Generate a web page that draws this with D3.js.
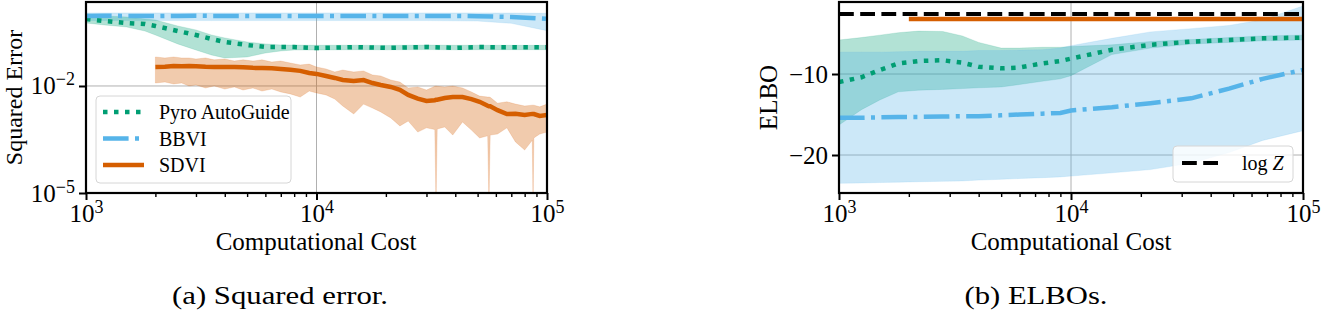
<!DOCTYPE html>
<html>
<head>
<meta charset="utf-8">
<script src="https://cdn.jsdelivr.net/npm/d3@7"></script>
<style>
body { margin: 0; background: #fff; }
text { font-family: "Liberation Serif", "DejaVu Serif", serif; fill: #000; }
</style>
</head>
<body>
<div id="container"></div>
<script>
// ---- data: (a) squared error ----
let costA = [1000, 1200, 1500, 1800, 2000, 2500, 3000, 3500, 4000, 5000, 6000, 7000, 8000, 10000, 15000, 20000, 30000, 40000, 50000, 70000, 100000];
let pyroErr   = [0.755, 0.664, 0.583, 0.547, 0.481, 0.348, 0.269, 0.208, 0.171, 0.141, 0.124, 0.124, 0.123, 0.116, 0.123, 0.117, 0.124, 0.117, 0.123, 0.122, 0.122];
let pyroErrHi = [1.05, 0.92, 0.86, 0.755, 0.708, 0.481, 0.372, 0.269, 0.222, 0.171, 0.151, 0.141, 0.140, 0.138, 0.139, 0.137, 0.140, 0.138, 0.139, 0.138, 0.138];
let pyroErrLo = [0.583, 0.513, 0.451, 0.348, 0.269, 0.151, 0.102, 0.074, 0.061, 0.065, 0.084, 0.096, 0.102, 0.102, 0.104, 0.103, 0.105, 0.103, 0.104, 0.104, 0.104];
let bbviErr   = [0.92, 0.93, 0.92, 0.92, 0.91, 0.92, 0.93, 0.92, 0.92, 0.91, 0.92, 0.92, 0.91, 0.92, 0.92, 0.91, 0.91, 0.92, 0.90, 0.86, 0.76];
let bbviErrHi = [1.12, 1.12, 1.12, 1.12, 1.12, 1.12, 1.12, 1.12, 1.12, 1.12, 1.12, 1.12, 1.12, 1.12, 1.12, 1.12, 1.12, 1.12, 1.12, 1.11, 1.09];
let bbviErrLo = [0.68, 0.68, 0.68, 0.68, 0.68, 0.68, 0.68, 0.68, 0.68, 0.68, 0.68, 0.68, 0.68, 0.68, 0.68, 0.68, 0.68, 0.67, 0.66, 0.57, 0.355];

let sdviCost = [2000, 2200, 2400, 2600, 2800, 3000, 3300, 3600, 4000, 4400, 4800, 5300, 5800, 6400, 7000, 7700, 8500, 9300,
  10000, 11000, 12000, 13000, 14500, 16000, 17500, 19000, 21000, 23000, 25000, 27500, 30000, 32600, 33000, 33400, 36000,
  39000, 43000, 47000, 51000, 55300, 56000, 56700, 61000, 67000, 73000, 80000, 86300, 87000, 87700, 93000, 100000];
let sdviErr = [0.0341, 0.0345, 0.0362, 0.0360, 0.0366, 0.0358, 0.0344, 0.0340, 0.0338, 0.0343, 0.0335, 0.0322, 0.0318, 0.0315, 0.0300, 0.0283, 0.0265, 0.0232,
  0.0218, 0.0190, 0.0168, 0.0147, 0.0138, 0.0147, 0.0121, 0.0107, 0.0094, 0.0078, 0.0056, 0.0044, 0.0038, 0.0040, 0.0041, 0.0041, 0.0046,
  0.0049, 0.0049, 0.0043, 0.0036, 0.0028, 0.0027, 0.0027, 0.0021, 0.00164, 0.00166, 0.00154, 0.00165, 0.00164, 0.00163, 0.00144, 0.00154];
let sdviErrHi = [0.065, 0.061, 0.065, 0.061, 0.061, 0.057, 0.061, 0.054, 0.057, 0.050, 0.054, 0.050, 0.054, 0.047, 0.050, 0.044, 0.039, 0.041,
  0.034, 0.030, 0.0247, 0.028, 0.0247, 0.0264, 0.0203, 0.0191, 0.0147, 0.0129, 0.0088, 0.0094, 0.0077, 0.0098, 0.0100, 0.0098, 0.0094,
  0.0100, 0.0088, 0.0068, 0.0052, 0.0049, 0.0049, 0.0048, 0.0033, 0.0036, 0.0031, 0.00275, 0.0029, 0.0029, 0.0029, 0.0026, 0.0031];
let sdviErrLo = [0.0121, 0.0129, 0.0114, 0.0121, 0.0100, 0.0107, 0.0088, 0.0100, 0.0082, 0.0094, 0.0077, 0.0088, 0.0072, 0.0082, 0.0068, 0.0060, 0.0049, 0.0072,
  0.0064, 0.0056, 0.0043, 0.00275, 0.00164, 0.0031, 0.0024, 0.00187, 0.00127, 0.00076, 0.00104, 0.00051, 0.00067, 0.00060, 0.000005, 0.00062, 0.00071,
  0.00042, 0.00098, 0.00058, 0.00035, 0.00040, 0.000005, 0.00042, 0.00045, 0.00067, 0.00027, 0.00016, 0.00030, 0.000005, 0.00035, 0.00045, 0.00051];

// ---- data: (b) ELBOs ----
let costB = [1000, 1250, 1500, 1800, 2200, 2800, 3400, 4000, 5000, 6000, 7500, 9000, 10000, 15000, 22000, 33000, 48000, 67000, 100000];
let pyroElbo   = [-11.0, -10.4, -9.5, -8.7, -8.4, -8.3, -8.6, -9.1, -9.3, -9.2, -8.7, -8.4, -8.1, -7.0, -6.4, -6.0, -5.8, -5.6, -5.5];
let pyroElboHi = [-5.8, -5.5, -5.2, -4.9, -4.7, -4.75, -5.3, -6.1, -6.8, -6.8, -6.7, -6.7, -6.6, -6.4, -6.0, -5.75, -5.5, -5.3, -5.2];
let pyroElboLo = [-16.3, -14.4, -13.2, -12.2, -12.0, -11.9, -11.8, -11.7, -11.6, -11.3, -10.9, -10.6, -10.2, -7.6, -6.8, -6.3, -6.1, -5.9, -5.8];
let bbviElbo   = [-15.4, -15.4, -15.35, -15.3, -15.3, -15.25, -15.2, -15.2, -15.1, -15.0, -14.9, -14.8, -14.5, -14.1, -13.6, -13.0, -11.8, -10.6, -9.5];
let bbviElboHi = [-7.3, -7.3, -7.3, -7.25, -7.2, -7.2, -7.2, -7.1, -7.1, -7.05, -7.0, -6.8, -6.5, -5.6, -4.8, -4.4, -4.0, -3.3, -1.6];
let bbviElboLo = [-23.5, -23.45, -23.4, -23.35, -23.3, -23.25, -23.2, -23.1, -23.0, -22.9, -22.8, -22.7, -22.6, -22.2, -21.8, -21.0, -19.7, -18.2, -17.0];
let sdviCostB = [2000, 100000];
let sdviElbo  = [-3.2, -3.2];
let logZ = -2.6;

let legendA = ["Pyro AutoGuide", "BBVI", "SDVI"];
let minorX = [2000, 3000, 4000, 5000, 6000, 7000, 8000, 9000, 20000, 30000, 40000, 50000, 60000, 70000, 80000, 90000];

let width = 1322;
let height = 317;
let cGreen = "#009E73", cBlue = "#56B4E9", cOrange = "#D55E00";

let svg = d3.select("#container")
  .append("svg")
  .attr("width", width)
  .attr("height", height);

function rows(cost, mid, lo, hi) {
  return cost.map((c, i) => ({ c: c, m: mid[i], lo: lo ? lo[i] : mid[i], hi: hi ? hi[i] : mid[i] }));
}

function panel(id, x, y, yTicks, yFmt, draw) {
  let g = svg.append("g");
  let [x0, x1] = x.range();
  let [y0, y1] = y.range();

  g.append("clipPath").attr("id", id)
    .append("rect").attr("x", x0).attr("y", y1).attr("width", x1 - x0).attr("height", y0 - y1);

  // grid
  g.append("g").selectAll("line").data([1e3, 1e4, 1e5]).enter().append("line")
    .attr("x1", d => x(d)).attr("x2", d => x(d)).attr("y1", y1).attr("y2", y0)
    .attr("stroke", "#b0b0b0").attr("stroke-width", 1);
  g.append("g").selectAll("line").data(yTicks).enter().append("line")
    .attr("x1", x0).attr("x2", x1).attr("y1", d => y(d)).attr("y2", d => y(d))
    .attr("stroke", "#b0b0b0").attr("stroke-width", 1);

  let plot = g.append("g").attr("clip-path", "url(#" + id + ")");
  draw(plot);

  // minor x ticks
  g.append("g").attr("transform", "translate(0," + y0 + ")")
    .call(d3.axisBottom(x).tickValues(minorX).tickSize(4).tickFormat(""))
    .call(a => a.select(".domain").remove())
    .call(a => a.selectAll("line").attr("stroke-width", 1.4));

  // major x ticks
  let ax = g.append("g").attr("transform", "translate(0," + y0 + ")")
    .call(d3.axisBottom(x).tickValues([1e3, 1e4, 1e5]).tickSize(7).tickFormat(""));
  ax.select(".domain").remove();
  ax.selectAll("line").attr("stroke-width", 2);
  ax.selectAll(".tick").append("text")
    .attr("y", 29).attr("text-anchor", "middle").attr("font-size", 25)
    .each(function (d) {
      let t = d3.select(this);
      t.append("tspan").text("10");
      t.append("tspan").attr("dy", -9).attr("font-size", 18).text(Math.round(Math.log10(d)));
    });

  // y ticks
  let ay = g.append("g").attr("transform", "translate(" + x0 + ",0)")
    .call(d3.axisLeft(y).tickValues(yTicks).tickSize(7).tickFormat(""));
  ay.select(".domain").remove();
  ay.selectAll("line").attr("stroke-width", 2);
  ay.selectAll(".tick").append("text")
    .attr("x", -11).attr("y", 8).attr("text-anchor", "end").attr("font-size", 25)
    .each(function (d) { yFmt(d3.select(this), d); });

  // frame
  g.append("rect").attr("x", x0).attr("y", y1).attr("width", x1 - x0).attr("height", y0 - y1)
    .attr("fill", "none").attr("stroke", "#000").attr("stroke-width", 2.2);
  return g;
}

function band(sel, data, x, y, color, op) {
  sel.append("path").datum(data)
    .attr("d", d3.area().x(d => x(d.c)).y0(d => y(d.lo)).y1(d => y(d.hi)))
    .attr("fill", color).attr("fill-opacity", op).attr("stroke", color).attr("stroke-opacity", op * 0.6).attr("stroke-width", 0.8);
}

function line(sel, data, x, y, color, dash, w) {
  sel.append("path").datum(data)
    .attr("d", d3.line().x(d => x(d.c)).y(d => y(d.m)))
    .attr("fill", "none").attr("stroke", color).attr("stroke-width", w)
    .attr("stroke-dasharray", dash);
}

let dotted = "4.5,6.5";
let dashdot = "25.6,6.4,4,6.4";

// ---- (a) ----
let xA = d3.scaleLog().domain([1e3, 1e5]).range([86, 547]);
let yA = d3.scaleLog().domain([1e-5, 2.26]).range([193, 2]);

panel("clipA", xA, yA, [1e-5, 1e-2], function (t, d) {
  t.append("tspan").text("10");
  t.append("tspan").attr("dy", -9).attr("font-size", 18).text("\u2212" + Math.round(-Math.log10(d)));
}, function (p) {
  let pr = rows(costA, pyroErr, pyroErrLo, pyroErrHi);
  let br = rows(costA, bbviErr, bbviErrLo, bbviErrHi);
  let sr = rows(sdviCost, sdviErr, sdviErrLo, sdviErrHi);
  band(p, br, xA, yA, cBlue, 0.3);
  band(p, pr, xA, yA, cGreen, 0.3);
  band(p, sr, xA, yA, cOrange, 0.32);
  line(p, pr, xA, yA, cGreen, dotted, 4.5);
  line(p, br, xA, yA, cBlue, dashdot, 4.5);
  line(p, sr, xA, yA, cOrange, null, 4.5);
});

// legend (a)
let legA = svg.append("g");
legA.append("rect").attr("x", 96).attr("y", 96).attr("width", 195).attr("height", 87).attr("rx", 4)
  .attr("fill", "#fff").attr("fill-opacity", 0.8).attr("stroke", "#d6d6d6").attr("stroke-width", 1);
let legStyles = [[cGreen, dotted], [cBlue, dashdot], [cOrange, null]];
legendA.forEach(function (name, i) {
  let yy = 112 + i * 26.5;
  legA.append("line").attr("x1", 103).attr("x2", 144).attr("y1", yy).attr("y2", yy)
    .attr("stroke", legStyles[i][0]).attr("stroke-width", 4.5).attr("stroke-dasharray", legStyles[i][1]);
  legA.append("text").attr("x", 159).attr("y", yy + 7).attr("font-size", 20).text(name);
});

svg.append("text").attr("x", 316).attr("y", 250).attr("text-anchor", "middle").attr("font-size", 25).text("Computational Cost");
svg.append("text").attr("transform", "translate(22,97.5) rotate(-90)").attr("text-anchor", "middle").attr("font-size", 24).text("Squared Error");
svg.append("text").attr("x", 280).attr("y", 304).attr("text-anchor", "middle").attr("font-size", 26)
  .attr("textLength", 216).attr("lengthAdjust", "spacingAndGlyphs").text("(a) Squared error.");

// ---- (b) ----
let xB = d3.scaleLog().domain([1e3, 1e5]).range([839, 1303]);
let yB = d3.scaleLinear().domain([-24.69, -1.11]).range([193, 2]);

panel("clipB", xB, yB, [-20, -10], function (t, d) {
  t.text("\u2212" + Math.abs(d));
}, function (p) {
  let pr = rows(costB, pyroElbo, pyroElboLo, pyroElboHi);
  let br = rows(costB, bbviElbo, bbviElboLo, bbviElboHi);
  let sr = rows(sdviCostB, sdviElbo);
  band(p, pr, xB, yB, cGreen, 0.3);
  band(p, br, xB, yB, cBlue, 0.3);
  line(p, pr, xB, yB, cGreen, dotted, 4.5);
  line(p, br, xB, yB, cBlue, dashdot, 4.5);
  line(p, sr, xB, yB, cOrange, null, 4.5);
  p.append("line").attr("x1", xB(1e3)).attr("x2", xB(1e5)).attr("y1", yB(logZ)).attr("y2", yB(logZ))
    .attr("stroke", "#000").attr("stroke-width", 4).attr("stroke-dasharray", "14.8,6.4");
});

// legend (b)
let legB = svg.append("g");
legB.append("rect").attr("x", 1173).attr("y", 146).attr("width", 120).attr("height", 36).attr("rx", 4)
  .attr("fill", "#fff").attr("fill-opacity", 0.8).attr("stroke", "#d6d6d6").attr("stroke-width", 1);
legB.append("line").attr("x1", 1182).attr("x2", 1220).attr("y1", 163).attr("y2", 163)
  .attr("stroke", "#000").attr("stroke-width", 4).attr("stroke-dasharray", "14.8,6.4");
let lz = legB.append("text").attr("x", 1242).attr("y", 170).attr("font-size", 20);
lz.append("tspan").text("log ");
lz.append("tspan").attr("font-style", "italic").text("Z");

svg.append("text").attr("x", 1071).attr("y", 250).attr("text-anchor", "middle").attr("font-size", 25).text("Computational Cost");
svg.append("text").attr("transform", "translate(777,97.5) rotate(-90)").attr("text-anchor", "middle").attr("font-size", 25).text("ELBO");
svg.append("text").attr("x", 1036).attr("y", 304).attr("text-anchor", "middle").attr("font-size", 26)
  .attr("textLength", 143).attr("lengthAdjust", "spacingAndGlyphs").text("(b) ELBOs.");
</script>
</body>
</html>
